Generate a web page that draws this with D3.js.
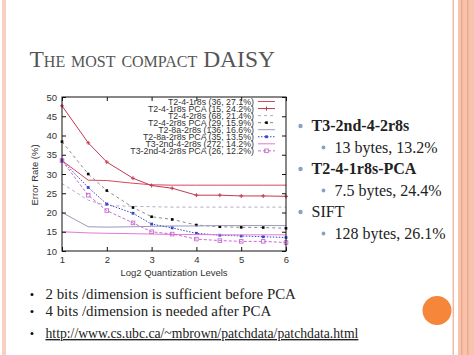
<!DOCTYPE html>
<html><head><meta charset="utf-8">
<script src="https://cdn.jsdelivr.net/npm/d3@7"></script>
<style>
html,body{margin:0;padding:0;background:#fff;}
svg{display:block;}
</style></head>
<body>
<svg id="slide" width="474" height="355"></svg>
<script>
// ---- data ----
const levels = [2, 3, 4, 6, 8, 11, 16, 23, 32, 45, 64];
const seriesNames = [
  "T2-4-1r8s (36, 27.1%)",
  "T2-4-1r8s PCA (15, 24.2%)",
  "T2-4-2r8s (68, 21.4%)",
  "T2-4-2r8s PCA (29, 15.9%)",
  "T2-8a-2r8s (136, 16.6%)",
  "T2-8a-2r8s PCA (35, 13.5%)",
  "T3-2nd-4-2r8s (272, 14.2%)",
  "T3-2nd-4-2r8s PCA (26, 12.2%)"
];
const s1 = [33.5, 28.4, 28.3, 27.6, 27.2, 27.1, 27.1, 27.1, 27.1, 27.1, 27.1];
const s2 = [47.7, 38.1, 33.1, 28.9, 27.0, 26.3, 24.5, 24.5, 24.3, 24.3, 24.2];
const s3 = [27.5, 23.2, 21.8, 21.6, 21.5, 21.4, 21.4, 21.4, 21.4, 21.4, 21.4];
const s4 = [38.4, 30.0, 25.7, 21.3, 18.9, 18.2, 16.75, 16.3, 16.15, 16.1, 15.9];
const s5 = [20.0, 16.3, 16.2, 16.3, 16.4, 16.5, 16.5, 16.6, 16.6, 16.6, 16.6];
const s6 = [33.5, 26.5, 22.2, 19.8, 17.0, 16.0, 14.6, 14.1, 13.9, 13.7, 13.5];
const s7 = [15.0, 14.7, 14.6, 14.5, 14.4, 14.3, 14.3, 14.2, 14.2, 14.2, 14.2];
const s8 = [33.5, 24.5, 20.5, 17.3, 15.0, 14.4, 13.1, 12.7, 12.5, 12.5, 12.2];
const xTicks = [1, 2, 3, 4, 5, 6];
const yTicks = [10, 15, 20, 25, 30, 35, 40, 45, 50];
const titleText = "The most compact DAISY";
const sideItems = [
  {main: "T3-2nd-4-2r8s", bold: true, sub: "13 bytes, 13.2%"},
  {main: "T2-4-1r8s-PCA", bold: true, sub: "7.5 bytes, 24.4%"},
  {main: "SIFT", bold: false, sub: "128 bytes, 26.1%"}
];
const bottomLines = [
  "2 bits /dimension is sufficient before PCA",
  "4 bits /dimension is needed after PCA",
  "http://www.cs.ubc.ca/~mbrown/patchdata/patchdata.html"
];

// ---- styles per series ----
const styles = [
  {color:"#d8465e", dash:null, marker:null},
  {color:"#c23a50", dash:null, marker:"plus"},
  {color:"#b9a6c4", dash:"3,3", marker:null},
  {color:"#8a8a8a", dash:"3,3", marker:"dot"},
  {color:"#9a9ab8", dash:null, marker:null},
  {color:"#3a46c8", dash:"1.5,1.5", marker:"square"},
  {color:"#e27ad8", dash:null, marker:null},
  {color:"#c86ad0", dash:"3,2", marker:"osquare"}
];
const allSeries = [s1,s2,s3,s4,s5,s6,s7,s8];

const svg = d3.select("#slide");

// slide decorations
svg.append("rect").attr("x",2).attr("y",0).attr("width",4).attr("height",355).attr("fill","#f8cfc2");
svg.append("rect").attr("x",452.5).attr("y",0).attr("width",1.5).attr("height",355).attr("fill","#f3b9a8");
svg.append("rect").attr("x",458).attr("y",0).attr("width",16).attr("height",355).attr("fill","#f7c3ad");
svg.append("rect").attr("x",461).attr("y",0).attr("width",1.5).attr("height",355).attr("fill","#eea88e");
svg.append("rect").attr("x",467).attr("y",0).attr("width",1.5).attr("height",355).attr("fill","#eea88e");

// title
svg.append("text").attr("x",29.5).attr("y",67)
  .attr("font-family","Liberation Serif, serif").attr("font-size",23.5)
  .style("font-variant","small-caps").attr("fill","#555")
  .text(titleText);

// ---- chart ----
const x = d3.scaleLinear().domain([1,6]).range([62,286]);
const y = d3.scaleLinear().domain([10,50]).range([251,97]);
const g = svg.append("g");

function drawMarkers(sel, pts, st){
  pts.forEach(p=>{
    if(st.marker==="plus"){
      sel.append("path").attr("d",`M${p[0]-2},${p[1]}h4M${p[0]},${p[1]-2}v4`)
        .attr("stroke",st.color).attr("stroke-width",1);
    } else if(st.marker==="dot"){
      sel.append("rect").attr("x",p[0]-1.3).attr("y",p[1]-1.3).attr("width",2.6).attr("height",2.6).attr("fill","#000");
    } else if(st.marker==="square"){
      sel.append("rect").attr("x",p[0]-1.4).attr("y",p[1]-1.4).attr("width",2.8).attr("height",2.8).attr("fill",st.color);
    } else if(st.marker==="osquare"){
      sel.append("rect").attr("x",p[0]-1.8).attr("y",p[1]-1.8).attr("width",3.6).attr("height",3.6)
        .attr("fill","none").attr("stroke",st.color).attr("stroke-width",0.9);
    }
  });
}

// series lines
allSeries.forEach((vals,i)=>{
  const st = styles[i];
  const pts = levels.map((l,j)=>[Math.log2(l), vals[j]]);
  g.append("path").datum(pts)
    .attr("fill","none").attr("stroke",st.color).attr("stroke-width",1)
    .attr("stroke-dasharray",st.dash)
    .attr("d", d3.line().x(d=>x(d[0])).y(d=>y(d[1])));
  drawMarkers(g, pts.map(d=>[x(d[0]),y(d[1])]), st);
});

// axes (frame + inward ticks, mirrored)
const axisFont = "Liberation Sans, Arial, sans-serif";
const ax = g.append("g");
const axBottom = d3.axisBottom(x).tickValues(xTicks).tickSize(-4).tickPadding(5).tickFormat(d3.format("d"));
const axLeft = d3.axisLeft(y).tickValues(yTicks).tickSize(-4).tickPadding(5).tickFormat(d3.format("d"));
const axTop = d3.axisTop(x).tickValues(xTicks).tickSize(-4).tickFormat("");
const axRight = d3.axisRight(y).tickValues(yTicks).tickSize(-4).tickFormat("");
[[axBottom,"translate(0,251)"],[axLeft,"translate(62,0)"],[axTop,"translate(0,97)"],[axRight,"translate(286,0)"]].forEach(([a,t])=>{
  const gg = ax.append("g").attr("transform",t).call(a);
  gg.select(".domain").remove();
  gg.selectAll("line").attr("stroke","#111").attr("stroke-width",1);
  gg.selectAll("text").attr("font-family",axisFont).attr("font-size",9.5).attr("fill","#333");
});
ax.append("rect").attr("x",62).attr("y",97).attr("width",224).attr("height",154)
  .attr("fill","none").attr("stroke","#111").attr("stroke-width",1);

// axis titles
svg.append("text").attr("x",174).attr("y",276).attr("text-anchor","middle")
  .attr("font-family",axisFont).attr("font-size",9.5).attr("fill","#333").text("Log2 Quantization Levels");
svg.append("text").attr("transform","translate(38,175) rotate(-90)").attr("text-anchor","middle")
  .attr("font-family",axisFont).attr("font-size",9.5).attr("fill","#333").text("Error Rate (%)");

// legend
const lg = svg.append("g");
seriesNames.forEach((name,i)=>{
  const ly = 101.5 + i*7.05;
  lg.append("text").attr("x",254).attr("y",ly+3).attr("text-anchor","end")
    .attr("font-family",axisFont).attr("font-size",8.8).attr("fill","#333").text(name);
  const st = styles[i];
  lg.append("line").attr("x1",258).attr("x2",275).attr("y1",ly).attr("y2",ly)
    .attr("stroke",st.color).attr("stroke-width",1).attr("stroke-dasharray",st.dash);
  drawMarkers(lg, [[266.5,ly]], st);
});

// right side bullets
const serif = "Liberation Serif, Times New Roman, serif";
sideItems.forEach((it,i)=>{
  const by = 131 + i*43;
  svg.append("circle").attr("cx",300.5).attr("cy",by-5).attr("r",2.2).attr("fill","#8e9fc6");
  svg.append("text").attr("x",311.5).attr("y",by).attr("font-family",serif).attr("font-size",16)
    .attr("font-weight",it.bold?"bold":"normal").attr("fill","#222").text(it.main);
  svg.append("circle").attr("cx",323.5).attr("cy",by+21-4.5).attr("r",1.9).attr("fill","#8e9fc6");
  svg.append("text").attr("x",334.5).attr("y",by+21.5).attr("font-family",serif).attr("font-size",16)
    .attr("fill","#222").text(it.sub);
});

// bottom bullets
const bys = [299, 316, 338];
bottomLines.forEach((t,i)=>{
  svg.append("circle").attr("cx",32).attr("cy",bys[i]-4.5).attr("r",1.5).attr("fill","#111");
  const tx = svg.append("text").attr("x",45.5).attr("y",bys[i]).attr("font-family",serif)
    .attr("font-size", i===2?13.7:14.9).attr("fill","#222").text(t);
  if(i===2) tx.attr("text-decoration","underline");
});

// orange circle
svg.append("circle").attr("cx",437).attr("cy",310.5).attr("r",14.5).attr("fill","#f5863a");
</script>
</body></html>
